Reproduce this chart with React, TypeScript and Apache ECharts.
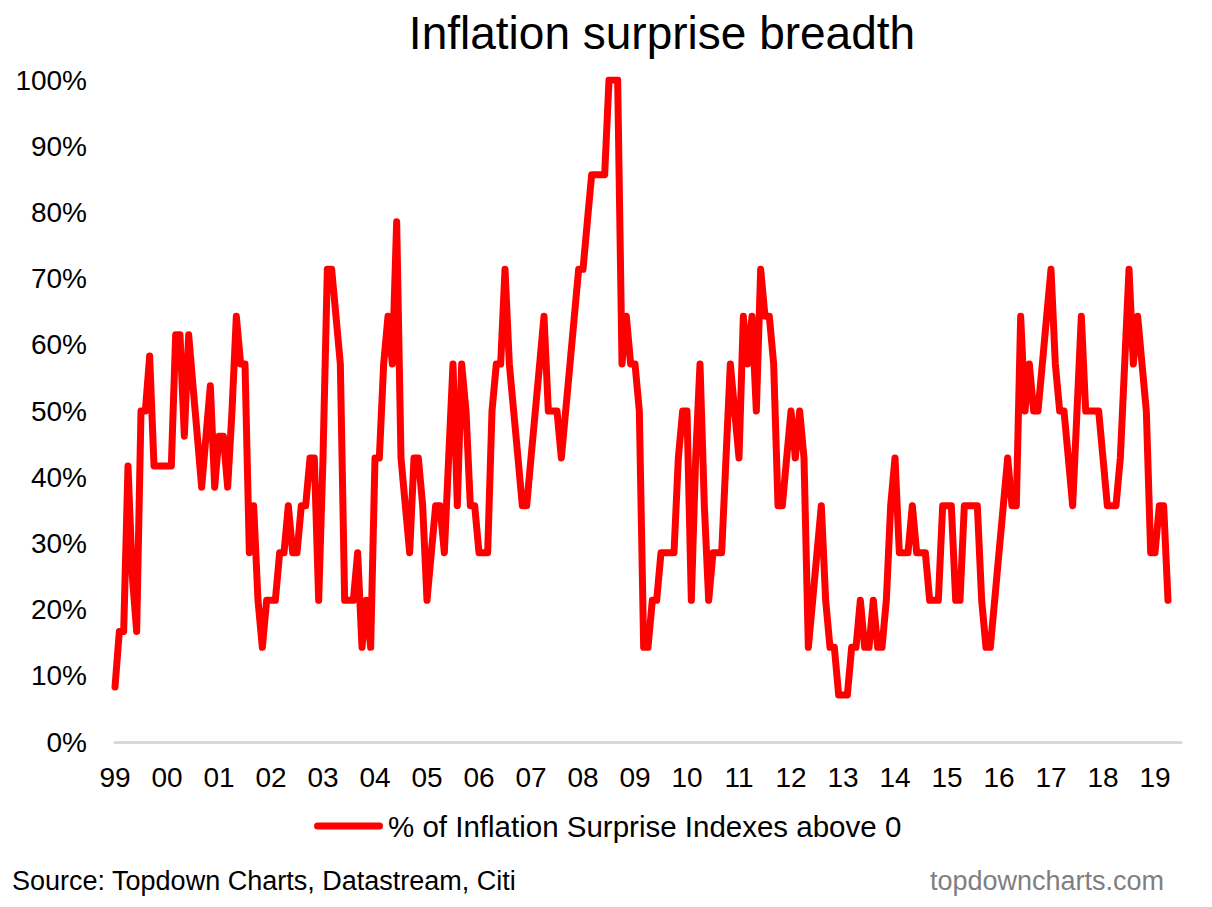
import React, { useEffect, useRef } from "react";
import * as echarts from "echarts";

// Share of inflation surprise indexes above zero, monthly readings in percent
const y1999 = [8.3, 16.7, 16.7, 41.7, 25.0, 16.7, 50.0, 50.0, 58.3, 41.7, 41.7, 41.7];
const y2000 = [41.7, 41.7, 61.5, 61.5, 46.2, 61.5, 53.8, 46.2, 38.5, 46.2, 53.8, 38.5];
const y2001 = [46.2, 46.2, 38.5, 50.0, 64.3, 57.1, 57.1, 28.6, 35.7, 21.4, 14.3, 21.4];
const y2002 = [21.4, 21.4, 28.6, 28.6, 35.7, 28.6, 28.6, 35.7, 35.7, 42.9, 42.9, 21.4];
const y2003 = [42.9, 71.4, 71.4, 64.3, 57.1, 21.4, 21.4, 21.4, 28.6, 14.3, 21.4, 14.3];
const y2004 = [42.9, 42.9, 57.1, 64.3, 57.1, 78.6, 42.9, 35.7, 28.6, 42.9, 42.9, 35.7];
const y2005 = [21.4, 28.6, 35.7, 35.7, 28.6, 42.9, 57.1, 35.7, 57.1, 50.0, 35.7, 35.7];
const y2006 = [28.6, 28.6, 28.6, 50.0, 57.1, 57.1, 71.4, 57.1, 50.0, 42.9, 35.7, 35.7];
const y2007 = [42.9, 50.0, 57.1, 64.3, 50.0, 50.0, 50.0, 42.9, 50.0, 57.1, 64.3, 71.4];
const y2008 = [71.4, 78.6, 85.7, 85.7, 85.7, 85.7, 100, 100, 100, 57.1, 64.3, 57.1];
const y2009 = [57.1, 50.0, 14.3, 14.3, 21.4, 21.4, 28.6, 28.6, 28.6, 28.6, 42.9, 50.0];
const y2010 = [50.0, 21.4, 42.9, 57.1, 35.7, 21.4, 28.6, 28.6, 28.6, 42.9, 57.1, 50.0];
const y2011 = [42.9, 64.3, 57.1, 64.3, 50.0, 71.4, 64.3, 64.3, 57.1, 35.7, 35.7, 42.9];
const y2012 = [50.0, 42.9, 50.0, 42.9, 14.3, 21.4, 28.6, 35.7, 21.4, 14.3, 14.3, 7.1];
const y2013 = [7.1, 7.1, 14.3, 14.3, 21.4, 14.3, 14.3, 21.4, 14.3, 14.3, 21.4, 35.7];
const y2014 = [42.9, 28.6, 28.6, 28.6, 35.7, 28.6, 28.6, 28.6, 21.4, 21.4, 21.4, 35.7];
const y2015 = [35.7, 35.7, 21.4, 21.4, 35.7, 35.7, 35.7, 35.7, 21.4, 14.3, 14.3, 21.4];
const y2016 = [28.6, 35.7, 42.9, 35.7, 35.7, 64.3, 50.0, 57.1, 50.0, 50.0, 57.1, 64.3];
const y2017 = [71.4, 57.1, 50.0, 50.0, 42.9, 35.7, 50.0, 64.3, 50.0, 50.0, 50.0, 50.0];
const y2018 = [42.9, 35.7, 35.7, 35.7, 42.9, 57.1, 71.4, 57.1, 64.3, 57.1, 50.0, 28.6];
const y2019 = [28.6, 35.7, 35.7, 21.4];

const breadth = [
  ...y1999, ...y2000, ...y2001, ...y2002, ...y2003, ...y2004, ...y2005,
  ...y2006, ...y2007, ...y2008, ...y2009, ...y2010, ...y2011, ...y2012,
  ...y2013, ...y2014, ...y2015, ...y2016, ...y2017, ...y2018, ...y2019,
];

// Monthly axis from Jan 1999 through Jul 2019 (a little room after the last reading)
const firstYear = 1999;
const lastYear = 2019;
const lastMonthOfAxis = 7;
const months: string[] = [];
for (let y = firstYear; y <= lastYear; y++) {
  const end = y === lastYear ? lastMonthOfAxis : 12;
  for (let m = 1; m <= end; m++) {
    months.push(`${y}-${String(m).padStart(2, "0")}`);
  }
}

const seriesName = "% of Inflation Surprise Indexes above 0";
const titleText = "Inflation surprise breadth";
const sourceText = "Source: Topdown Charts, Datastream, Citi";
const siteText = "topdowncharts.com";

const FONT = "'Liberation Sans', Arial, Helvetica, sans-serif";

export default function App() {
  const ref = useRef<HTMLDivElement>(null);

  useEffect(() => {
    if (!ref.current) return;
    const chart = echarts.init(ref.current, null, { renderer: "svg" });
    chart.setOption({
      animation: false,
      backgroundColor: "#ffffff",
      textStyle: { fontFamily: FONT },
      grid: { left: 115, right: 31, top: 80, bottom: 165, containLabel: false },
      xAxis: {
        type: "category",
        data: months,
        boundaryGap: false,
        axisLine: { show: true, lineStyle: { color: "#d9d9d9", width: 3 } },
        axisTick: { show: false },
        splitLine: { show: false },
        axisLabel: {
          interval: (i: number) => i % 12 === 0,
          formatter: (v: string) => v.slice(2, 4),
          color: "#000000",
          fontSize: 28,
          fontFamily: FONT,
          margin: 21,
        },
      },
      yAxis: {
        type: "value",
        min: 0,
        max: 100,
        interval: 10,
        axisLine: { show: false },
        axisTick: { show: false },
        splitLine: { show: false },
        axisLabel: {
          formatter: "{value}%",
          color: "#000000",
          fontSize: 28,
          fontFamily: FONT,
          margin: 28,
        },
      },
      legend: {
        show: true,
        left: 309,
        top: 806,
        itemWidth: 69,
        itemHeight: 7,
        icon: "path://M3.5,0L65.5,0A3.5,3.5,0,0,1,65.5,7L3.5,7A3.5,3.5,0,0,1,3.5,0Z",
        textStyle: { color: "#000000", fontSize: 29.5, fontFamily: FONT },
        data: [seriesName],
      },
      series: [
        {
          name: seriesName,
          type: "line",
          data: breadth,
          showSymbol: false,
          symbol: "none",
          color: "#ff0000",
          lineStyle: { color: "#ff0000", width: 7, cap: "round", join: "round" },
          emphasis: { disabled: true },
        },
      ],
      graphic: [
        {
          type: "text",
          x: 662,
          y: 33,
          style: {
            text: titleText,
            fill: "#000000",
            font: `46px ${FONT}`,
            align: "center",
            verticalAlign: "middle",
          },
        },
        {
          type: "text",
          x: 12,
          y: 881,
          style: {
            text: sourceText,
            fill: "#000000",
            font: `27px ${FONT}`,
            align: "left",
            verticalAlign: "middle",
          },
        },
        {
          type: "text",
          x: 1164,
          y: 881,
          style: {
            text: siteText,
            fill: "#7f7f7f",
            font: `27px ${FONT}`,
            align: "right",
            verticalAlign: "middle",
          },
        },
      ],
    });
    return () => chart.dispose();
  }, []);

  return (
    <div
      ref={ref}
      style={{ position: "absolute", left: 0, top: 0, width: 1212, height: 907, background: "#ffffff" }}
    />
  );
}
